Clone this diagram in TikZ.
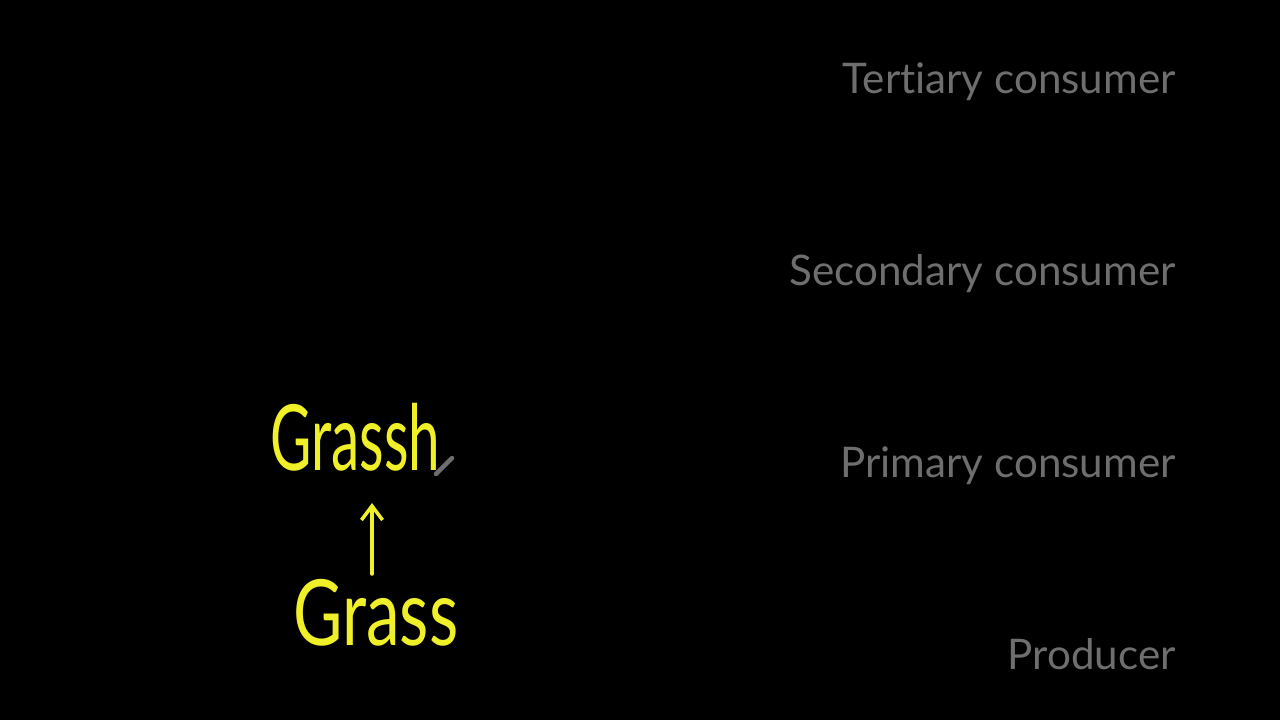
\documentclass[tikz,border=0pt]{standalone}
\usepackage{fontspec}
\setmainfont[Ligatures=NoCommon]{Lato}
\usetikzlibrary{arrows, arrows.meta, positioning}
\definecolor{chalk}{RGB}{240,240,40}
\definecolor{levelgrey}{RGB}{110,110,110}

\begin{document}
\begin{tikzpicture}[x=0.02cm, y=-0.02cm,
    level/.style={text=levelgrey, anchor=base east, inner sep=0pt, font=\fontsize{24}{30}\selectfont},
    scrawl/.style={text=chalk, anchor=base west, inner sep=0pt, font=\fontsize{52}{60}\selectfont}]
    \fill[black] (0,0) rectangle (1280,720);
    \useasboundingbox (0,0) rectangle (1280,720);
    % trophic levels
    \node[level] (T) at (1176,  93) {Tertiary consumer};
    \node[level] (S) at (1176, 285) {Secondary consumer};
    \node[level] (P) at (1176, 477) {Primary consumer};
    \node[level] (R) at (1176, 669) {Producer};
    % handwriting
    \node[scrawl] (hopper) at (270, 470) {\scalebox{0.62}[1]{Grassh}};
    \node[scrawl] (grass)  at (293, 645) {\scalebox{0.74}[1]{Grass}};
    \coordinate (tail) at (372, 574);
    \coordinate (tip)  at (372, 503);
    \draw[chalk, line width=2pt, line cap=round, -{Straight Barb[length=8pt, width=12pt, line width=2pt]}] (tail) -- (tip);
    % pen
    \coordinate (penA) at (436, 474);
    \coordinate (penB) at (452, 458);
    \draw[levelgrey, line width=2.5pt, line cap=round] (penA) -- (penB);
\end{tikzpicture}
\end{document}
